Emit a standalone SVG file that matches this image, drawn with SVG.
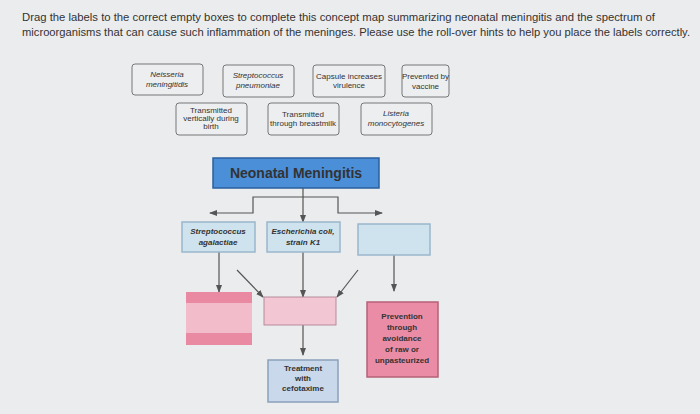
<svg xmlns="http://www.w3.org/2000/svg" width="700" height="414" viewBox="0 0 700 414">
<defs>
<marker id="ah" markerWidth="8" markerHeight="8" refX="7" refY="4" orient="auto" markerUnits="userSpaceOnUse"><path d="M0,1 L8,4 L0,7 Z" fill="#555"/></marker>
<style>
text{font-family:"Liberation Sans",Arial,sans-serif;fill:#333}
.lbl rect{fill:#eceef0;stroke:#777;stroke-width:1}
.lbl text{font-size:8px;text-anchor:middle}
.it{font-style:italic}
.blue{fill:#cfe3ef;stroke:#9bb7cc;stroke-width:1.5}
.c line,.c path{stroke:#555;stroke-width:1.2;fill:none;marker-end:url(#ah)}
.b text{font-size:8px;text-anchor:middle;font-weight:bold}
</style>
</defs>
<rect width="700" height="414" fill="#ebecee"/>
<text x="22" y="21" font-size="11" fill="#222" textLength="633" lengthAdjust="spacingAndGlyphs">Drag the labels to the correct empty boxes to complete this concept map summarizing neonatal meningitis and the spectrum of</text>
<text x="22" y="36" font-size="11" fill="#222" textLength="668" lengthAdjust="spacingAndGlyphs">microorganisms that can cause such inflammation of the meninges. Please use the roll-over hints to help you place the labels correctly.</text>

<g id="l-neisseria" class="lbl"><rect x="132" y="64" width="71" height="31" rx="3"/><text class="it" x="167" y="77">Neisseria</text><text class="it" x="167" y="87">meningitidis</text></g>
<g id="l-pneumoniae" class="lbl"><rect x="223" y="65" width="71" height="32" rx="3"/><text class="it" x="258" y="78">Streptococcus</text><text class="it" x="258" y="88">pneumoniae</text></g>
<g id="l-capsule" class="lbl"><rect x="313" y="65" width="72" height="32" rx="3"/><text x="349" y="79" font-size="7">Capsule increases</text><text x="349" y="88" font-size="7">virulence</text></g>
<g id="l-vaccine" class="lbl"><rect x="402" y="65" width="47" height="32" rx="3"/><text x="425.5" y="79" font-size="6.5">Prevented by</text><text x="425.5" y="89" font-size="6.5">vaccine</text></g>
<g id="l-vertical" class="lbl"><rect x="176" y="103" width="71" height="32" rx="3"/><text x="211" y="113" font-size="7">Transmitted</text><text x="211" y="121" font-size="7">vertically during</text><text x="211" y="129" font-size="7">birth</text></g>
<g id="l-breastmilk" class="lbl"><rect x="268" y="103" width="71" height="32" rx="3"/><text x="303" y="117" font-size="7">Transmitted</text><text x="303" y="126" font-size="7">through breastmilk</text></g>
<g id="l-listeria" class="lbl"><rect x="361" y="103" width="71" height="32" rx="3"/><text class="it" x="396" y="116">Listeria</text><text class="it" x="396" y="126">monocytogenes</text></g>

<g id="title"><rect x="213" y="158" width="166" height="30" fill="#4a8fd8" stroke="#2a5f9e" stroke-width="1.5"/><text x="296" y="178" font-size="14" font-weight="bold" text-anchor="middle" fill="#1c2a3a">Neonatal Meningitis</text></g>

<g class="c" id="connectors">
<path d="M303,188 V197 H253 V213 H210"/>
<line x1="303" y1="197" x2="303" y2="222"/>
<path d="M303,197 H338 V213 H382"/>
<line x1="219" y1="252" x2="219" y2="292"/>
<line x1="303" y1="252" x2="303" y2="297"/>
<line x1="394" y1="255" x2="394" y2="291"/>
<line x1="237" y1="270" x2="263" y2="297"/>
<line x1="358" y1="270" x2="337" y2="297"/>
<line x1="303" y1="325" x2="303" y2="355"/>
</g>

<g id="n-agalactiae" class="b"><rect class="blue" x="182" y="222" width="73" height="30"/><text class="it" x="218" y="234">Streptococcus</text><text class="it" x="218" y="245">agalactiae</text></g>
<g id="n-ecoli" class="b"><rect class="blue" x="267" y="222" width="73" height="30"/><text class="it" x="303" y="234">Escherichia coli,</text><text class="it" x="303" y="245">strain K1</text></g>
<g id="n-empty" class="b"><rect class="blue" x="358" y="224" width="72" height="31" fill="#deedf5"/></g>

<g id="n-pinkleft"><rect x="186" y="292" width="66" height="53" fill="#f3bccb"/><rect x="186" y="292" width="66" height="11" fill="#ea8aa2"/><rect x="186" y="333" width="66" height="12" fill="#ea8aa2"/></g>
<g id="n-pinkmid"><rect x="264" y="297" width="72" height="28" fill="#f3c6d4" stroke="#b88a9a" stroke-width="1"/></g>
<g id="n-treatment" class="b"><rect x="268" y="360" width="70" height="42" fill="#c9d8ea" stroke="#8aa0bb" stroke-width="1.5"/><text x="303" y="371">Treatment</text><text x="303" y="381">with</text><text x="303" y="391">cefotaxime</text></g>
<g id="n-prevention" class="b"><rect x="367" y="302" width="71" height="75" fill="#eb8ca6" stroke="#b76078" stroke-width="1.5"/><text x="402" y="319">Prevention</text><text x="402" y="330">through</text><text x="402" y="341">avoidance</text><text x="402" y="352">of raw or</text><text x="402" y="363">unpasteurized</text></g>
</svg>
